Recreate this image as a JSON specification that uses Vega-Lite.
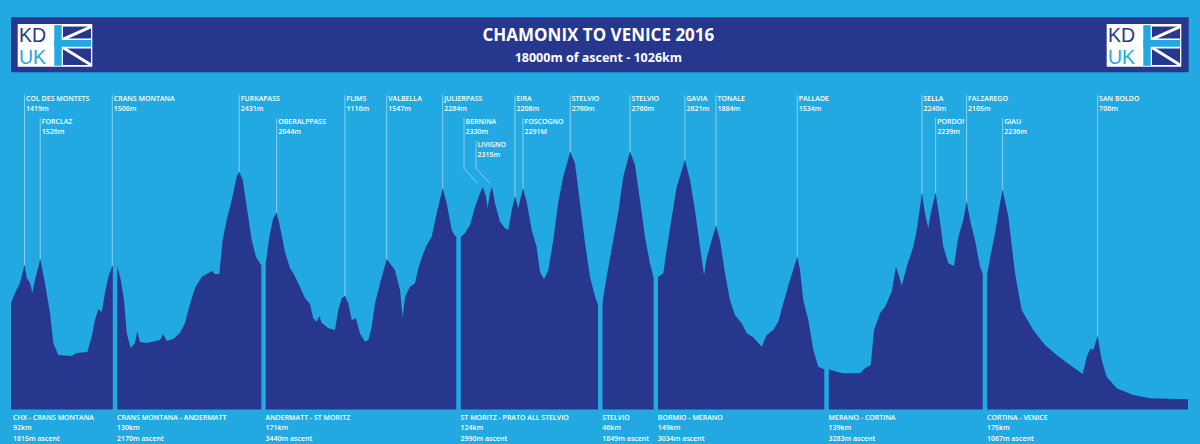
{
"$schema": "https://vega.github.io/schema/vega-lite/v6.json",
"width": 1200, "height": 444,
"autosize": {"type": "fit", "contains": "padding"},
"padding": 0,
"background": "#23a9e1",
"config": {"view": {"stroke": null}},
"datasets": {
"one": [{}],
"profile": [
{"km":0,"elev":1137},{"km":3.5,"elev":1247},{"km":7.8,"elev":1354},{"km":11.8,"elev":1547},{"km":13.7,"elev":1408},{"km":16.6,"elev":1354},{"km":18.6,"elev":1247},{"km":20.9,"elev":1386},{"km":25.5,"elev":1608},{"km":29.6,"elev":1354},{"km":34.0,"elev":1033},{"km":36.9,"elev":712},{"km":41.2,"elev":583},{"km":52.9,"elev":573},{"km":57.3,"elev":605},{"km":66.5,"elev":616},{"km":70.3,"elev":776},{"km":73.2,"elev":958},{"km":76.1,"elev":1076},{"km":79.1,"elev":1044},{"km":81.9,"elev":1247},{"km":84.8,"elev":1419},{"km":88.3,"elev":1536},{"km":90.7,"elev":1536},
{"km":92.7,"elev":1536},{"km":95.7,"elev":1386},{"km":98.5,"elev":1172},{"km":100.9,"elev":819},{"km":104.3,"elev":658},{"km":108.1,"elev":712},{"km":110.1,"elev":840},{"km":112.4,"elev":723},{"km":118.3,"elev":712},{"km":129.9,"elev":744},{"km":132.8,"elev":808},{"km":135.7,"elev":733},{"km":141.5,"elev":755},{"km":147.3,"elev":819},{"km":151.7,"elev":926},{"km":156.0,"elev":1129},{"km":160.4,"elev":1301},{"km":166.2,"elev":1419},{"km":172.0,"elev":1461},{"km":174.9,"elev":1483},{"km":177.8,"elev":1451},{"km":181.6,"elev":1451},{"km":184.5,"elev":1815},{"km":188.0,"elev":2029},{"km":192.4,"elev":2243},{"km":196.7,"elev":2492},{"km":199.0,"elev":2546},{"km":202.0,"elev":2457},{"km":205.5,"elev":2171},{"km":209.8,"elev":1815},{"km":213.6,"elev":1633},{"km":217.9,"elev":1547},{"km":220.1,"elev":1568},
{"km":222.3,"elev":1582},{"km":225.2,"elev":1850},{"km":228.6,"elev":2047},{"km":231.6,"elev":2107},{"km":234.5,"elev":1957},{"km":238.8,"elev":1689},{"km":243.2,"elev":1512},{"km":246.1,"elev":1458},{"km":251.9,"elev":1315},{"km":256.3,"elev":1191},{"km":260.6,"elev":1129},{"km":263.5,"elev":976},{"km":266.5,"elev":940},{"km":268.7,"elev":1001},{"km":270.8,"elev":929},{"km":276.6,"elev":869},{"km":282.4,"elev":851},{"km":285.3,"elev":1065},{"km":288.3,"elev":1191},{"km":291.1,"elev":1215},{"km":294.0,"elev":1137},{"km":297.0,"elev":958},{"km":300.7,"elev":976},{"km":304.2,"elev":816},{"km":308.6,"elev":726},{"km":311.5,"elev":744},{"km":314.4,"elev":886},{"km":317.3,"elev":1137},{"km":321.7,"elev":1351},{"km":327.5,"elev":1608},{"km":334.7,"elev":1493},{"km":339.1,"elev":1280},{"km":341.4,"elev":994},{"km":343.5,"elev":1208},{"km":347.8,"elev":1315},{"km":352.2,"elev":1351},{"km":355.0,"elev":1512},{"km":359.4,"elev":1672},{"km":362.4,"elev":1761},{"km":366.7,"elev":1850},{"km":371.1,"elev":2101},{"km":376.3,"elev":2368},{"km":379.8,"elev":2208},{"km":384.2,"elev":1922},{"km":387.0,"elev":1857},{"km":390.1,"elev":1854},
{"km":392.3,"elev":1850},{"km":395.7,"elev":1886},{"km":400.1,"elev":1975},{"km":404.5,"elev":2171},{"km":408.8,"elev":2315},{"km":411.2,"elev":2385},{"km":414.1,"elev":2278},{"km":415.5,"elev":2154},{"km":417.5,"elev":2315},{"km":419.3,"elev":2385},{"km":421.9,"elev":2208},{"km":426.3,"elev":2011},{"km":430.6,"elev":1940},{"km":433.5,"elev":1922},{"km":436.5,"elev":2136},{"km":439.3,"elev":2278},{"km":442.2,"elev":2154},{"km":446.3,"elev":2368},{"km":449.5,"elev":2225},{"km":453.9,"elev":1922},{"km":458.2,"elev":1743},{"km":461.1,"elev":1475},{"km":464.6,"elev":1394},{"km":468.4,"elev":1493},{"km":472.7,"elev":1815},{"km":477.1,"elev":2225},{"km":481.4,"elev":2492},{"km":487.5,"elev":2760},{"km":491.6,"elev":2636},{"km":496.0,"elev":2208},{"km":500.4,"elev":1779},{"km":504.7,"elev":1422},{"km":509.1,"elev":1208},{"km":511.9,"elev":1119},{"km":513.7,"elev":1119},
{"km":515.4,"elev":1137},{"km":519.2,"elev":1422},{"km":525.0,"elev":1815},{"km":529.4,"elev":2118},{"km":533.7,"elev":2492},{"km":539.6,"elev":2760},{"km":543.9,"elev":2618},{"km":548.3,"elev":2243},{"km":552.6,"elev":1850},{"km":557.0,"elev":1565},{"km":559.9,"elev":1422},{"km":562.1,"elev":1422},
{"km":564.2,"elev":1422},{"km":568.6,"elev":1458},{"km":571.5,"elev":1708},{"km":576.0,"elev":2064},{"km":580.3,"elev":2385},{"km":587.5,"elev":2671},{"km":591.9,"elev":2457},{"km":596.2,"elev":2136},{"km":600.6,"elev":1743},{"km":604.1,"elev":1440},{"km":606.4,"elev":1619},{"km":610.8,"elev":1815},{"km":614.6,"elev":1965},{"km":618.0,"elev":1815},{"km":622.4,"elev":1458},{"km":626.7,"elev":1172},{"km":631.1,"elev":1012},{"km":636.9,"elev":923},{"km":641.3,"elev":816},{"km":647.0,"elev":773},{"km":654.4,"elev":672},{"km":658.7,"elev":798},{"km":664.5,"elev":851},{"km":668.8,"elev":940},{"km":673.2,"elev":1137},{"km":679.0,"elev":1386},{"km":685.4,"elev":1636},{"km":687.8,"elev":1493},{"km":690.6,"elev":1172},{"km":695.0,"elev":958},{"km":699.4,"elev":637},{"km":703.7,"elev":458},{"km":708.7,"elev":430},{"km":710.9,"elev":430},
{"km":713.0,"elev":430},{"km":719.7,"elev":405},{"km":725.5,"elev":388},{"km":740.1,"elev":388},{"km":744.5,"elev":441},{"km":749.4,"elev":476},{"km":752.3,"elev":851},{"km":757.5,"elev":1030},{"km":761.9,"elev":1101},{"km":767.7,"elev":1261},{"km":771.4,"elev":1529},{"km":774.3,"elev":1422},{"km":776.4,"elev":1322},{"km":780.8,"elev":1529},{"km":786.5,"elev":1743},{"km":789.5,"elev":1922},{"km":794.1,"elev":2315},{"km":796.7,"elev":2101},{"km":799.6,"elev":1940},{"km":802.0,"elev":2118},{"km":806.0,"elev":2321},{"km":809.2,"elev":2064},{"km":812.7,"elev":1743},{"km":817.1,"elev":1565},{"km":822.0,"elev":1536},{"km":825.8,"elev":1850},{"km":830.1,"elev":2029},{"km":833.0,"elev":2225},{"km":836.6,"elev":1993},{"km":840.3,"elev":1815},{"km":844.7,"elev":1529},{"km":847.0,"elev":1458},{"km":849.0,"elev":1458},
{"km":851.0,"elev":1458},{"km":853.4,"elev":1619},{"km":857.8,"elev":1886},{"km":862.1,"elev":2208},{"km":864.4,"elev":2350},{"km":869.4,"elev":2064},{"km":875.2,"elev":1458},{"km":881.0,"elev":1065},{"km":891.1,"elev":851},{"km":901.3,"elev":691},{"km":911.5,"elev":583},{"km":923.1,"elev":476},{"km":934.2,"elev":380},{"km":937.7,"elev":565},{"km":941.1,"elev":655},{"km":943.4,"elev":637},{"km":947.2,"elev":787},{"km":950.7,"elev":530},{"km":955.1,"elev":351},{"km":963.8,"elev":227},{"km":978.3,"elev":155},{"km":992.8,"elev":120},{"km":1026,"elev":109}
],
"peaks": [
{"name":"COL DES MONTETS","height":"1419m","km":11.8,"peak_km":11.8,"peak_elev":1547,"level":1},
{"name":"FORCLAZ","height":"1526m","km":25.5,"peak_km":25.5,"peak_elev":1608,"level":2},
{"name":"CRANS MONTANA","height":"1506m","km":88.3,"peak_km":88.3,"peak_elev":1536,"level":1},
{"name":"FURKAPASS","height":"2431m","km":199.0,"peak_km":199.0,"peak_elev":2546,"level":1},
{"name":"OBERALPPASS","height":"2044m","km":231.6,"peak_km":231.6,"peak_elev":2107,"level":2},
{"name":"FLIMS","height":"1116m","km":291.1,"peak_km":291.1,"peak_elev":1215,"level":1},
{"name":"VALBELLA","height":"1547m","km":327.5,"peak_km":327.5,"peak_elev":1608,"level":1},
{"name":"JULIERPASS","height":"2284m","km":376.3,"peak_km":376.3,"peak_elev":2368,"level":1},
{"name":"BERNINA","height":"2330m","km":394.9,"peak_km":406.5,"peak_elev":2422,"level":2},
{"name":"LIVIGNO","height":"2315m","km":405.3,"peak_km":417.4,"peak_elev":2422,"level":3},
{"name":"EIRA","height":"2208m","km":439.3,"peak_km":439.3,"peak_elev":2278,"level":1},
{"name":"FOSCOGNO","height":"2291M","km":446.3,"peak_km":446.3,"peak_elev":2368,"level":2},
{"name":"STELVIO","height":"2760m","km":487.5,"peak_km":487.5,"peak_elev":2760,"level":1},
{"name":"STELVIO","height":"2760m","km":539.6,"peak_km":539.6,"peak_elev":2760,"level":1},
{"name":"GAVIA","height":"2621m","km":587.5,"peak_km":587.5,"peak_elev":2671,"level":1},
{"name":"TONALE","height":"1884m","km":614.6,"peak_km":614.6,"peak_elev":1965,"level":1},
{"name":"PALLADE","height":"1534m","km":685.4,"peak_km":685.4,"peak_elev":1636,"level":1},
{"name":"SELLA","height":"2240m","km":794.1,"peak_km":794.1,"peak_elev":2315,"level":1},
{"name":"PORDOI","height":"2239m","km":806.0,"peak_km":806.0,"peak_elev":2321,"level":2},
{"name":"FALZAREGO","height":"2105m","km":833.0,"peak_km":833.0,"peak_elev":2225,"level":1},
{"name":"GIAU","height":"2236m","km":864.4,"peak_km":864.4,"peak_elev":2350,"level":2},
{"name":"SAN BOLDO","height":"706m","km":947.2,"peak_km":947.2,"peak_elev":787,"level":1}
],
"stages": [
{"stage":"CHX - CRANS MONTANA","dist":"92km","ascent":"1815m ascent","start":0},
{"stage":"CRANS MONTANA - ANDERMATT","dist":"130km","ascent":"2170m ascent","start":90.7},
{"stage":"ANDERMATT - ST MORITZ","dist":"171km","ascent":"3440m ascent","start":220.1},
{"stage":"ST MORITZ - PRATO ALL STELVIO","dist":"124km","ascent":"2990m ascent","start":390.1},
{"stage":"STELVIO","dist":"46km","ascent":"1849m ascent","start":513.7},
{"stage":"BORMIO - MERANO","dist":"149km","ascent":"3034m ascent","start":562.1},
{"stage":"MERANO - CORTINA","dist":"139km","ascent":"3283m ascent","start":710.9},
{"stage":"CORTINA - VENICE","dist":"175km","ascent":"1067m ascent","start":849.0}
]
},
"layer": [
{"data":{"name":"profile"},"mark":{"type":"area","color":"#28378e","interpolate":"linear"},
 "encoding":{"x":{"field":"km","type":"quantitative","scale":{"domain":[-9.59,1036.44],"nice":false,"zero":false},"axis":null},
 "y":{"field":"elev","type":"quantitative","scale":{"domain":[-369.4,4384.1],"nice":false,"zero":false},"axis":null},
 "y2":{"datum":0}}},
{"data":{"name":"stages"},"transform":[{"filter":"datum.start > 0"}],"mark":{"type":"rule","color":"#23a9e1","strokeWidth":4.5},
 "encoding":{"x":{"field":"start","type":"quantitative"},"y":{"datum":-60},"y2":{"datum":2900}}},
{"data":{"name":"one"},"mark":{"type":"rect","color":"#28378e"},"encoding":{"x":{"datum":0},"x2":{"datum":1026.6},"y":{"datum":4199},"y2":{"datum":3610}}},
{"data":{"name":"one"},"mark":{"type":"text","text":"CHAMONIX TO VENICE 2016","font":"Open Sans","fontSize":17,"fontWeight":"bold","color":"white","align":"center","baseline":"alphabetic"},"encoding":{"x":{"datum":512},"y":{"datum":3948}}},
{"data":{"name":"one"},"mark":{"type":"text","text":"18000m of ascent - 1026km","font":"Open Sans","fontSize":12.5,"fontWeight":"bold","color":"white","align":"center","baseline":"alphabetic"},"encoding":{"x":{"datum":512},"y":{"datum":3724}}},

{"data":{"name":"one"},"mark":{"type":"rect","color":"white"},"encoding":{"x":{"datum":5.84},"x2":{"datum":70.87},"y":{"datum":3670},"y2":{"datum":4127}}},
{"data":{"name":"one"},"mark":{"type":"rect","color":"#28378e"},"encoding":{"x":{"datum":45.33},"x2":{"datum":69.74},"y":{"datum":3972},"y2":{"datum":4100}}},
{"data":{"name":"one"},"mark":{"type":"rect","color":"#28378e"},"encoding":{"x":{"datum":45.33},"x2":{"datum":69.74},"y":{"datum":3688},"y2":{"datum":3865}}},
{"data":{"name":"one"},"mark":{"type":"rule","color":"white","strokeWidth":3},"encoding":{"x":{"datum":44.19},"x2":{"datum":69.9},"y":{"datum":3956},"y2":{"datum":4100}}},
{"data":{"name":"one"},"mark":{"type":"rule","color":"white","strokeWidth":3},"encoding":{"x":{"datum":44.19},"x2":{"datum":69.9},"y":{"datum":3884},"y2":{"datum":3688}}},
{"data":{"name":"one"},"mark":{"type":"rect","color":"#23a9e1"},"encoding":{"x":{"datum":37.74},"x2":{"datum":44.19},"y":{"datum":3680},"y2":{"datum":4115}}},
{"data":{"name":"one"},"mark":{"type":"rect","color":"#23a9e1"},"encoding":{"x":{"datum":37.74},"x2":{"datum":69.9},"y":{"datum":3884},"y2":{"datum":3956}}},
{"data":{"name":"one"},"mark":{"type":"text","text":"KD","font":"Liberation Sans","fontSize":19.5,"color":"#28378e","align":"left","baseline":"alphabetic"},"encoding":{"x":{"datum":6.97},"y":{"datum":3934}}},
{"data":{"name":"one"},"mark":{"type":"text","text":"UK","font":"Liberation Sans","fontSize":19.5,"color":"#23a9e1","align":"left","baseline":"alphabetic"},"encoding":{"x":{"datum":6.97},"y":{"datum":3694}}},

{"data":{"name":"one"},"mark":{"type":"rect","color":"white"},"encoding":{"x":{"datum":955.11},"x2":{"datum":1020.14},"y":{"datum":3670},"y2":{"datum":4127}}},
{"data":{"name":"one"},"mark":{"type":"rect","color":"#28378e"},"encoding":{"x":{"datum":994.6},"x2":{"datum":1019.01},"y":{"datum":3972},"y2":{"datum":4100}}},
{"data":{"name":"one"},"mark":{"type":"rect","color":"#28378e"},"encoding":{"x":{"datum":994.6},"x2":{"datum":1019.01},"y":{"datum":3688},"y2":{"datum":3865}}},
{"data":{"name":"one"},"mark":{"type":"rule","color":"white","strokeWidth":3},"encoding":{"x":{"datum":993.46},"x2":{"datum":1019.17},"y":{"datum":3956},"y2":{"datum":4100}}},
{"data":{"name":"one"},"mark":{"type":"rule","color":"white","strokeWidth":3},"encoding":{"x":{"datum":993.46},"x2":{"datum":1019.17},"y":{"datum":3884},"y2":{"datum":3688}}},
{"data":{"name":"one"},"mark":{"type":"rect","color":"#23a9e1"},"encoding":{"x":{"datum":987.01},"x2":{"datum":993.46},"y":{"datum":3680},"y2":{"datum":4115}}},
{"data":{"name":"one"},"mark":{"type":"rect","color":"#23a9e1"},"encoding":{"x":{"datum":987.01},"x2":{"datum":1019.17},"y":{"datum":3884},"y2":{"datum":3956}}},
{"data":{"name":"one"},"mark":{"type":"text","text":"KD","font":"Liberation Sans","fontSize":19.5,"color":"#28378e","align":"left","baseline":"alphabetic"},"encoding":{"x":{"datum":956.24},"y":{"datum":3934}}},
{"data":{"name":"one"},"mark":{"type":"text","text":"UK","font":"Liberation Sans","fontSize":19.5,"color":"#23a9e1","align":"left","baseline":"alphabetic"},"encoding":{"x":{"datum":956.24},"y":{"datum":3694}}},

{"data":{"name":"peaks"},"transform":[{"filter":"datum.level == 1"}],"mark":{"type":"rule","color":"#86d0ef","strokeWidth":1},
 "encoding":{"x":{"field":"km","type":"quantitative"},"y":{"field":"peak_elev","type":"quantitative"},"y2":{"datum":3367}}},
{"data":{"name":"peaks"},"transform":[{"filter":"datum.level == 2 && datum.km == datum.peak_km"}],"mark":{"type":"rule","color":"#86d0ef","strokeWidth":1},
 "encoding":{"x":{"field":"km","type":"quantitative"},"y":{"field":"peak_elev","type":"quantitative"},"y2":{"datum":3121}}},
{"data":{"name":"peaks"},"transform":[{"filter":"datum.level == 2 && datum.km != datum.peak_km"}],"mark":{"type":"rule","color":"#86d0ef","strokeWidth":1},
 "encoding":{"x":{"field":"km","type":"quantitative"},"y":{"datum":2582},"y2":{"datum":3121}}},
{"data":{"name":"peaks"},"transform":[{"filter":"datum.level == 3"}],"mark":{"type":"rule","color":"#86d0ef","strokeWidth":1},
 "encoding":{"x":{"field":"km","type":"quantitative"},"y":{"datum":2582},"y2":{"datum":2875}}},
{"data":{"name":"peaks"},"transform":[{"filter":"datum.km != datum.peak_km"}],"mark":{"type":"rule","color":"#86d0ef","strokeWidth":1},
 "encoding":{"x":{"field":"peak_km","type":"quantitative"},"y":{"field":"peak_elev","type":"quantitative"},"x2":{"field":"km"},"y2":{"datum":2582}}},

{"data":{"name":"peaks"},"transform":[{"filter":"datum.level == 1"}],"mark":{"type":"text","align":"left","baseline":"middle","dx":1.5,"font":"Open Sans","fontSize":7,"fontWeight":600,"color":"white"},
 "encoding":{"x":{"field":"km","type":"quantitative"},"y":{"datum":3322},"text":{"field":"name"}}},
{"data":{"name":"peaks"},"transform":[{"filter":"datum.level == 1"}],"mark":{"type":"text","align":"left","baseline":"middle","dx":1.5,"font":"Open Sans","fontSize":7,"fontWeight":600,"color":"white"},
 "encoding":{"x":{"field":"km","type":"quantitative"},"y":{"datum":3215},"text":{"field":"height"}}},
{"data":{"name":"peaks"},"transform":[{"filter":"datum.level == 2"}],"mark":{"type":"text","align":"left","baseline":"middle","dx":1.5,"font":"Open Sans","fontSize":7,"fontWeight":600,"color":"white"},
 "encoding":{"x":{"field":"km","type":"quantitative"},"y":{"datum":3073},"text":{"field":"name"}}},
{"data":{"name":"peaks"},"transform":[{"filter":"datum.level == 2"}],"mark":{"type":"text","align":"left","baseline":"middle","dx":1.5,"font":"Open Sans","fontSize":7,"fontWeight":600,"color":"white"},
 "encoding":{"x":{"field":"km","type":"quantitative"},"y":{"datum":2966},"text":{"field":"height"}}},
{"data":{"name":"peaks"},"transform":[{"filter":"datum.level == 3"}],"mark":{"type":"text","align":"left","baseline":"middle","dx":1.5,"font":"Open Sans","fontSize":7,"fontWeight":600,"color":"white"},
 "encoding":{"x":{"field":"km","type":"quantitative"},"y":{"datum":2834},"text":{"field":"name"}}},
{"data":{"name":"peaks"},"transform":[{"filter":"datum.level == 3"}],"mark":{"type":"text","align":"left","baseline":"middle","dx":1.5,"font":"Open Sans","fontSize":7,"fontWeight":600,"color":"white"},
 "encoding":{"x":{"field":"km","type":"quantitative"},"y":{"datum":2723},"text":{"field":"height"}}},

{"data":{"name":"stages"},"mark":{"type":"text","align":"left","baseline":"middle","dx":2,"font":"Open Sans","fontSize":7,"fontWeight":600,"color":"white"},
 "encoding":{"x":{"field":"start","type":"quantitative"},"y":{"datum":-93},"text":{"field":"stage"}}},
{"data":{"name":"stages"},"mark":{"type":"text","align":"left","baseline":"middle","dx":2,"font":"Open Sans","fontSize":7,"fontWeight":600,"color":"white"},
 "encoding":{"x":{"field":"start","type":"quantitative"},"y":{"datum":-201},"text":{"field":"dist"}}},
{"data":{"name":"stages"},"mark":{"type":"text","align":"left","baseline":"middle","dx":2,"font":"Open Sans","fontSize":7,"fontWeight":600,"color":"white"},
 "encoding":{"x":{"field":"start","type":"quantitative"},"y":{"datum":-316},"text":{"field":"ascent"}}}
]
}
